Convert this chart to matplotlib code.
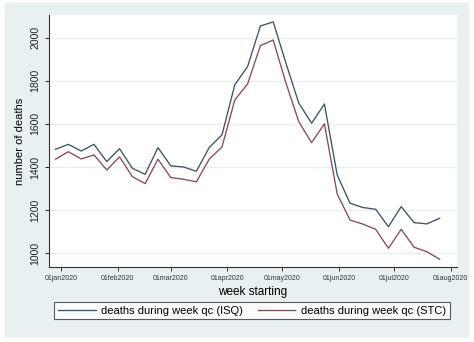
import matplotlib
matplotlib.use('Agg')
import matplotlib.pyplot as plt
import matplotlib.dates as mdates
import matplotlib.ticker as mticker
from matplotlib.patches import Rectangle
import pandas as pd

plt.rcParams['font.family'] = ['Liberation Sans', 'DejaVu Sans']

# weekly deaths, Quebec, weeks starting 29 Dec 2019
weeks = pd.date_range('2019-12-29', periods=31, freq='7D')
deaths_isq = [1482, 1505, 1474, 1505, 1425, 1485, 1394, 1366, 1490, 1405,
              1400, 1380, 1490, 1549, 1781, 1866, 2054, 2073, 1881, 1696,
              1603, 1692, 1363, 1232, 1212, 1204, 1123, 1216, 1142, 1136, 1162]
deaths_stc = [1436, 1471, 1437, 1456, 1386, 1447, 1355, 1323, 1436, 1351,
              1343, 1331, 1436, 1493, 1711, 1785, 1963, 1989, 1789, 1610,
              1513, 1600, 1275, 1154, 1135, 1111, 1023, 1111, 1028, 1007, 972]
month_ticks = pd.date_range('2020-01-01', '2020-08-01', freq='MS')
y_ticks = [1000, 1200, 1400, 1600, 1800, 2000]

W, H = 474, 342
fig = plt.figure(figsize=(W / 100, H / 100), dpi=100, facecolor='white')
bg = '#E9F0F2'
fig.patches.append(Rectangle((5 / W, 1 - 336 / H), 463 / W, 333 / H,
                             transform=fig.transFigure, color=bg, zorder=-5))

ax = fig.add_axes([49 / W, 1 - 267 / H, 408 / W, 252 / H])
ax.set_zorder(1)
ax.set_facecolor('white')

ax.plot(weeks, deaths_isq, color='#3a5468', lw=0.95, label='deaths during week qc (ISQ)')
ax.plot(weeks, deaths_stc, color='#8f4850', lw=0.95, label='deaths during week qc (STC)')

ax.set_xlim(pd.Timestamp('2019-12-25 10:00'), pd.Timestamp('2020-08-04 12:00'))
ax.set_ylim(936, 2105)
ax.set_xticks(month_ticks)
ax.xaxis.set_major_formatter(mticker.FuncFormatter(
    lambda v, p: mdates.num2date(v).strftime('%d%b%Y').lower()))
ax.set_yticks(y_ticks)
for t in ax.get_yticklabels():
    t.set_rotation(90)
    t.set_va('center')

ax.tick_params(axis='x', labelsize=5, length=3, width=0.7, pad=3, colors='#333333')
ax.tick_params(axis='y', labelsize=7.5, length=3, width=0.7, pad=3, colors='#222222')
ax.grid(axis='y', color='#E8EEF0', lw=1)
ax.set_axisbelow(True)

for s in ['top', 'right']:
    ax.spines[s].set_visible(False)
for s in ['left', 'bottom']:
    ax.spines[s].set_color('#333333')
    ax.spines[s].set_linewidth(0.8)

ax.set_ylabel('number of deaths', fontsize=8, labelpad=4)
ax.set_xlabel('week starting', fontsize=8.5, labelpad=3)

leg = fig.legend(loc='center', bbox_to_anchor=(252 / W, 1 - 310.5 / H), ncol=2,
                 fontsize=8, frameon=True, fancybox=False, edgecolor='#333333',
                 handlelength=3.4, handletextpad=0.5, columnspacing=1.3,
                 borderpad=0.35)
leg.get_frame().set_linewidth(0.8)

fig.savefig('out.png', dpi=100, facecolor='white')
